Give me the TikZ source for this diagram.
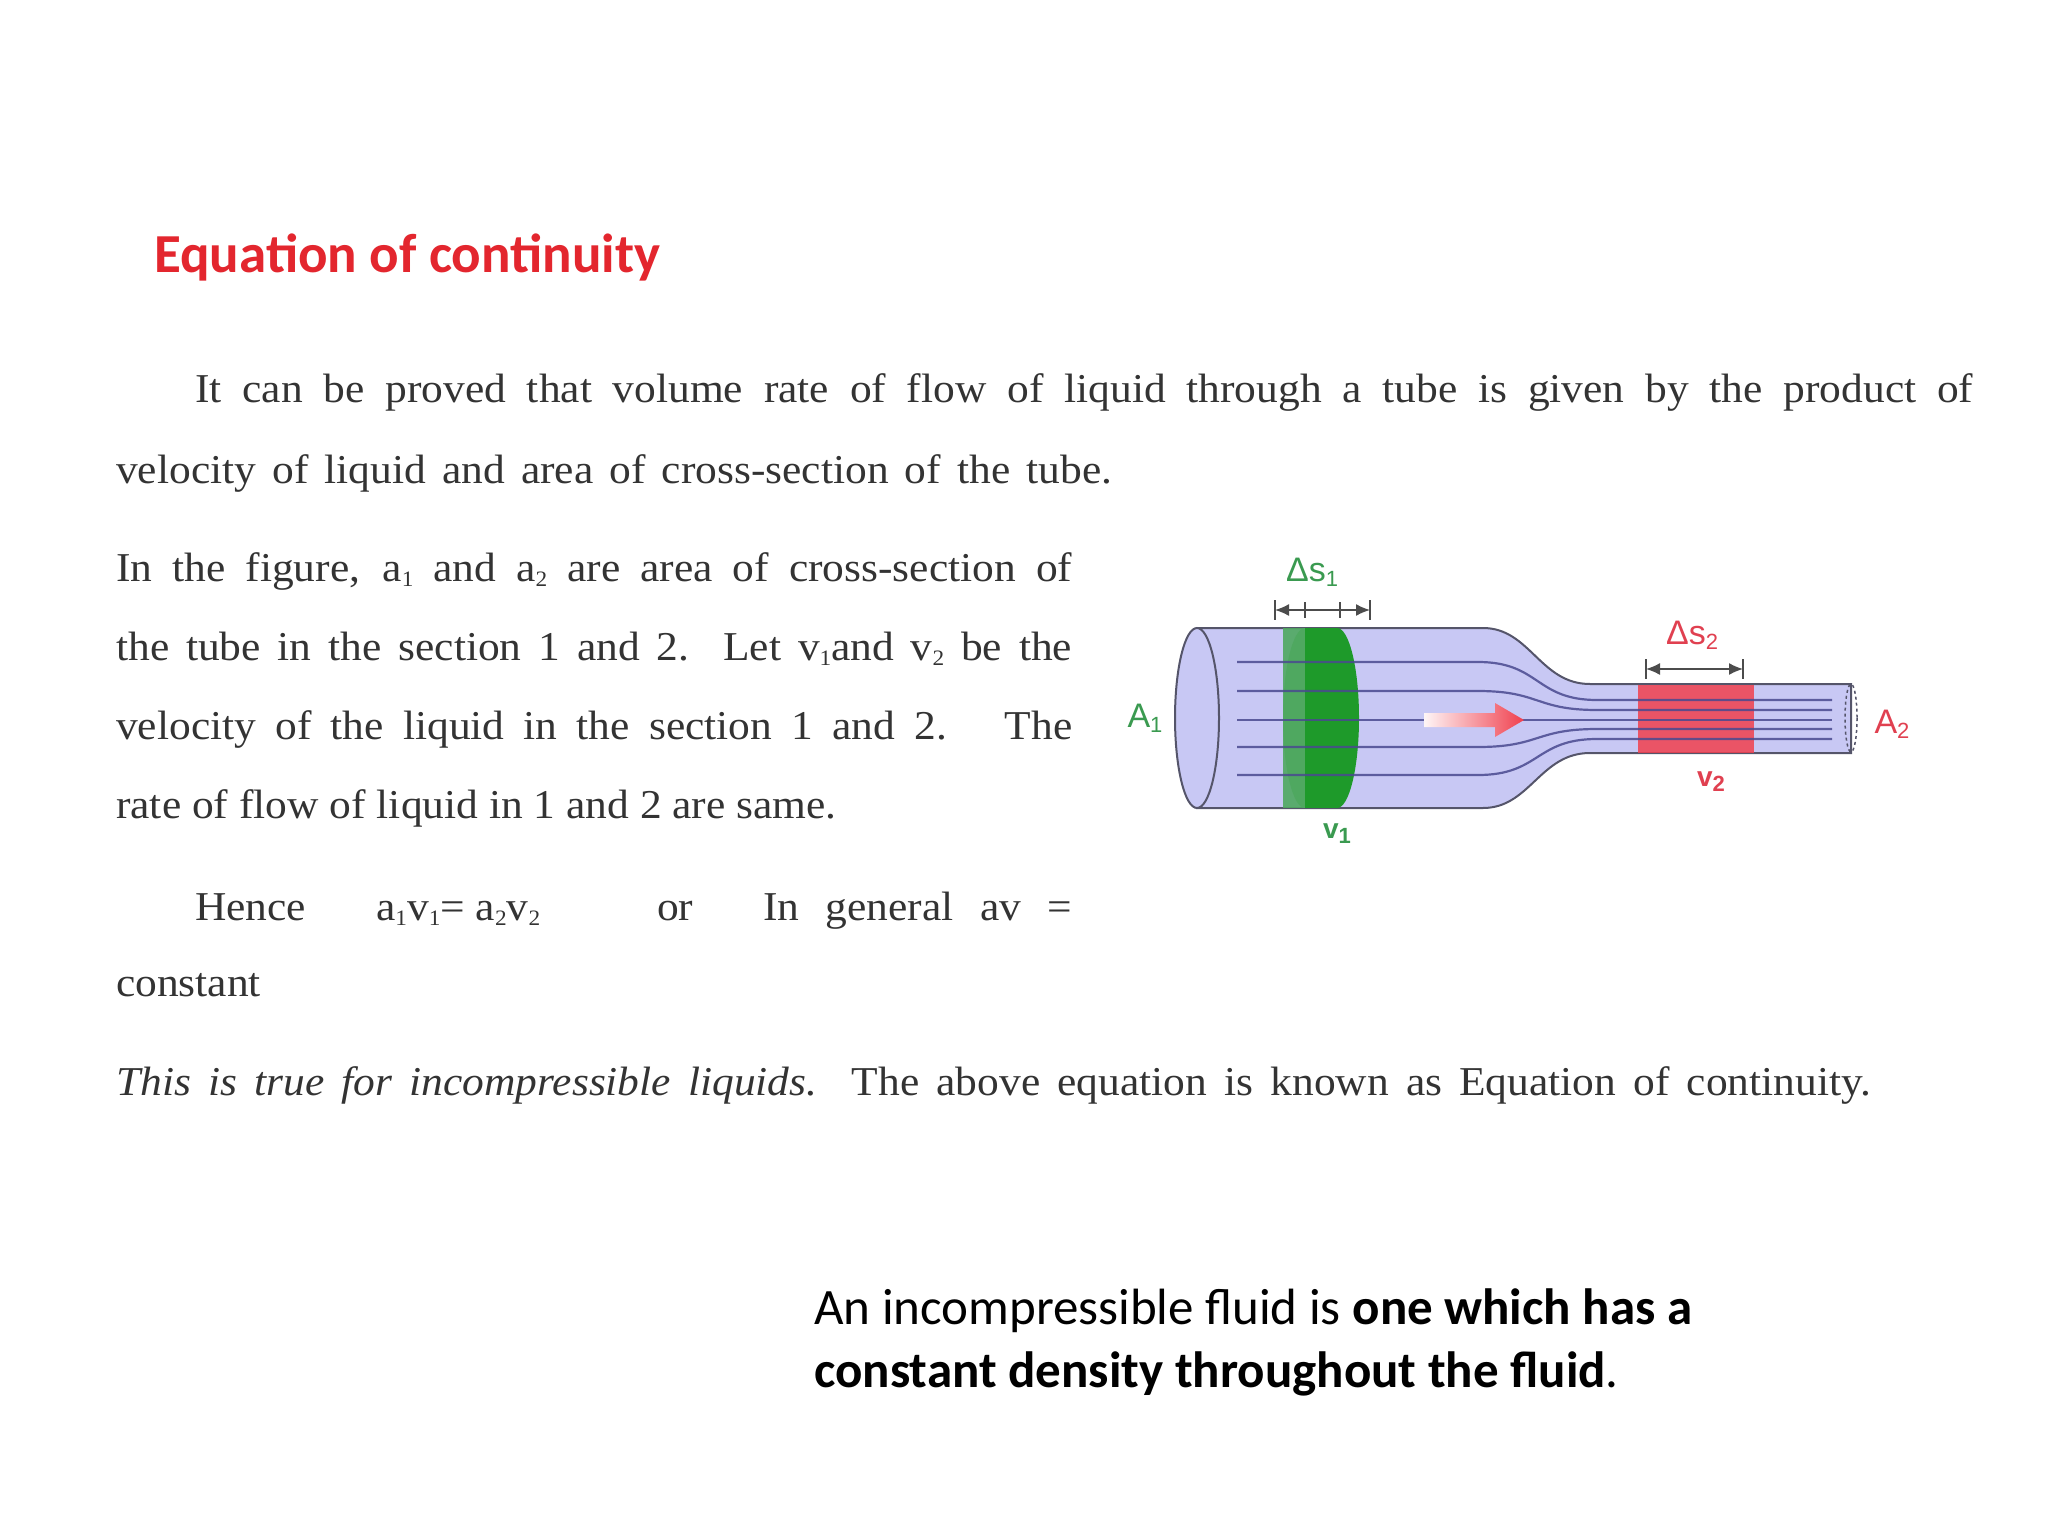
\documentclass[tikz,border=0pt]{standalone}
\usepackage{fontspec}
\setmainfont{Liberation Serif}[FakeStretch=1.06]
\newfontfamily\carlitof{Carlito}
\newfontfamily\lsans{Liberation Sans}
\usetikzlibrary{arrows.meta}
\definecolor{txt}{HTML}{333333}
\definecolor{ttl}{HTML}{E3262E}
\definecolor{tubef}{HTML}{C8C8F4}
\definecolor{tubed}{HTML}{55556A}
\definecolor{sl}{HTML}{4A4A90}
\definecolor{gr}{HTML}{1E9A2A}
\definecolor{grl}{HTML}{4FA860}
\definecolor{rd}{HTML}{F0404E}
\definecolor{lbg}{HTML}{3A9A50}
\definecolor{lbr}{HTML}{E04050}
\newcommand{\sbs}[1]{\raisebox{-5pt}{\fontsize{22}{22}\selectfont #1}}
\begin{document}
\begin{tikzpicture}[x=1pt,y=-1pt,
  body/.style={anchor=base west,inner sep=0pt,text=txt,font=\fontsize{41}{44}\selectfont},
  lab/.style={inner sep=0pt,font=\lsans\fontsize{34}{34}\selectfont},
  sline/.style={draw=sl,line width=2.2pt},
  dim/.style={draw=black!70,line width=1.5pt,{Latex[length=14pt,width=12pt]}-{Latex[length=14pt,width=12pt]}}]
\useasboundingbox (0,0) rectangle (2048,1536);
% title
\node[anchor=base west,inner sep=0pt,text=ttl,font=\carlitof\bfseries\fontsize{55}{55}\selectfont] (title) at (154,272) {Equation of continuity};
% text lines
\node[body] (l1) at (195,402) {\makebox[1778pt][s]{It can be proved that volume rate of flow of liquid through a tube is given by the product of}};
\node[body] (l2) at (116,483) {\makebox[996pt][s]{velocity of liquid and area of cross-section of the tube.}};
\node[body] (l3) at (116,581) {\makebox[956pt][s]{In the figure, a\sbs{1} and a\sbs{2} are area of cross-section of}};
\node[body] (l4) at (116,660) {\makebox[956pt][s]{the tube in the section 1 and 2.\ \ Let v\sbs{1}and v\sbs{2} be the}};
\node[body] (l5) at (116,739) {\makebox[956pt][s]{velocity of the liquid in the section 1 and 2.\ \ \ The}};
\node[body] (l6) at (116,818) {rate of flow of liquid in 1 and 2 are same.};
\node[body] (h1) at (195,920) {Hence};
\node[body] (h2) at (376,920) {a\sbs{1}v\sbs{1}= a\sbs{2}v\sbs{2}};
\node[body] (h3) at (657,920) {or};
\node[body] (h4) at (763,920) {\makebox[309pt][s]{In general av =}};
\node[body] (l8) at (116,996) {constant};
\node[body] (l9) at (116,1095) {\makebox[1755pt][s]{{\itshape This is true for incompressible liquids.}\ \ The above equation is known as Equation of continuity.}};
% bottom text
\node[anchor=base west,inner sep=0pt,text=black,font=\carlitof\fontsize{51}{63}\selectfont,align=left] (bt) at (814,1387) {An incompressible fluid is \textbf{one which has a}\\\textbf{constant density throughout the fluid}.};
% tube
\path[fill=tubef,draw=tubed,line width=2pt] (1197,628) -- (1483,628) .. controls (1530,628) and (1540,684) .. (1590,684) -- (1851,684) -- (1851,753) -- (1590,753) .. controls (1540,753) and (1530,808) .. (1483,808) -- (1197,808) -- cycle;
\draw[tubed,line width=2pt,fill=tubef] (1197,718) ellipse (22 and 90);
\draw[tubed,line width=1.5pt,dashed] (1851,718) ellipse (6 and 34);
% green disk
\fill[grl,opacity=0.9] (1283,628) rectangle (1337,808);
\fill[grl] (1305,718) ellipse (22 and 90);
\fill[gr] (1305,628) rectangle (1337,808);
\fill[gr] (1337,718) ellipse (22 and 90);
% red band
\fill[rd,opacity=0.85] (1638,685) rectangle (1754,753);
% streamlines
\foreach \a/\b in {662/700,691/710,720/720,747/729,775/739}{
  \draw[sline,opacity=0.85] (1237,\a) -- (1478,\a) .. controls (1540,\a) and (1535,\b) .. (1597,\b) -- (1832,\b);
}
% flow arrow
\shade[left color=rd!5,right color=rd] (1424,713) -- (1495,713) -- (1495,703) -- (1524,720) -- (1495,737) -- (1495,727) -- (1424,727) -- cycle;
% dimension arrows
\coordinate (d1a) at (1275,610); \coordinate (d1b) at (1370,610);
\draw[dim] (d1a) -- (d1b);
\draw[black!70,line width=1.2pt] (1305,602) -- (1305,618) (1340,602) -- (1340,618) (1275,600)--(1275,620) (1370,600)--(1370,620);
\coordinate (d2a) at (1646,669); \coordinate (d2b) at (1743,669);
\draw[dim] (d2a) -- (d2b);
\draw[black!70,line width=1.2pt] (1646,659)--(1646,679) (1743,659)--(1743,679);
% labels
\node[lab,text=lbg] (ds1) at (1312,572) {Δs\sbs{1}};
\node[lab,text=lbr] (ds2) at (1692,635) {Δs\sbs{2}};
\node[lab,text=lbg] (A1) at (1145,718) {A\sbs{1}};
\node[lab,text=lbr] (A2) at (1892,724) {A\sbs{2}};
\node[lab,text=lbg,font=\lsans\bfseries\fontsize{28}{28}\selectfont] (v1) at (1337,834) {v\sbs{1}};
\node[lab,text=lbr,font=\lsans\bfseries\fontsize{28}{28}\selectfont] (v2) at (1711,782) {v\sbs{2}};
\end{tikzpicture}
\end{document}
